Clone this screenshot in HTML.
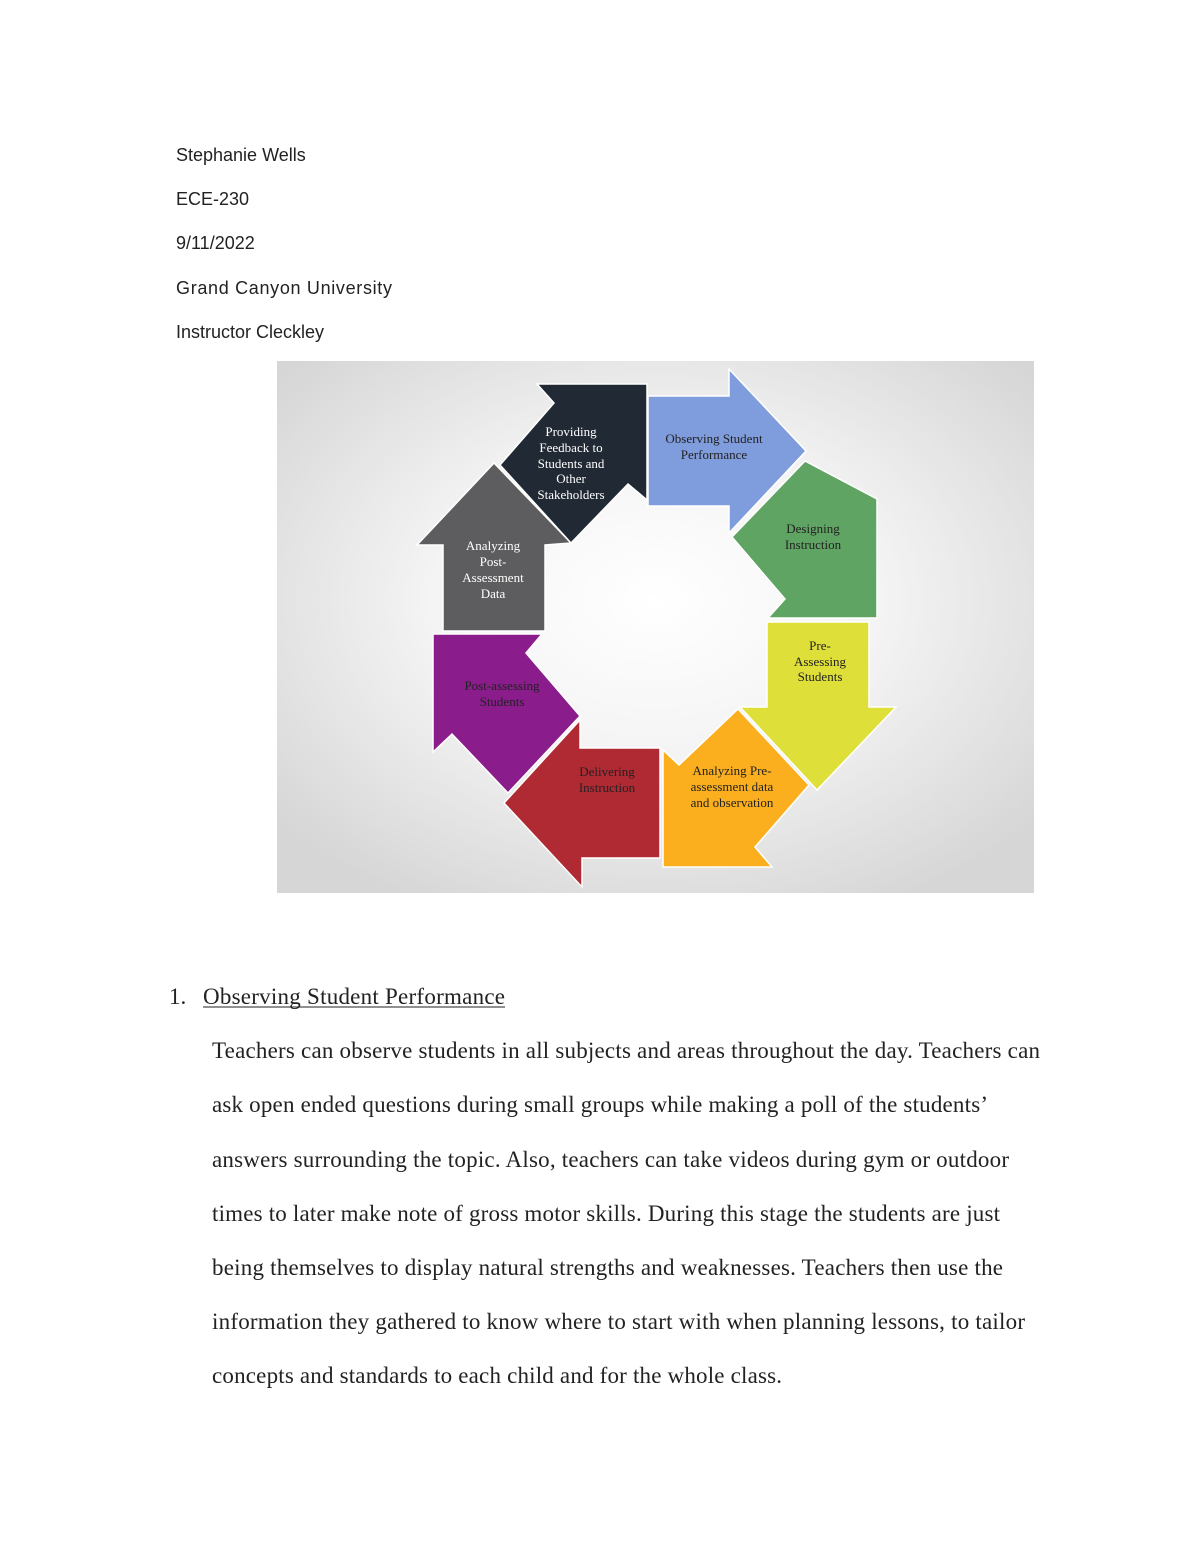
<!DOCTYPE html>
<html><head><meta charset="utf-8"><style>
html,body{margin:0;padding:0;background:#fff;width:1200px;height:1553px;overflow:hidden}
svg{display:block}
.h{font-family:"Liberation Sans",sans-serif;font-size:18px;fill:#222}
.b{font-family:"Liberation Serif",serif;font-size:23px;fill:#222}
.l{font-family:"Liberation Serif",serif;font-size:13px;text-anchor:middle}
</style></head><body>
<svg width="1200" height="1553" viewBox="0 0 1200 1553" xmlns="http://www.w3.org/2000/svg">
<defs>
<radialGradient id="g" cx="50%" cy="45%" r="65%">
<stop offset="0" stop-color="#ffffff"/><stop offset="0.45" stop-color="#f4f4f4"/><stop offset="1" stop-color="#d6d6d6"/>
</radialGradient>
</defs>
<text class="h" x="176" y="161">Stephanie Wells</text>
<text class="h" x="176" y="205">ECE-230</text>
<text class="h" x="176" y="249">9/11/2022</text>
<text class="h" x="176" y="294" textLength="216">Grand Canyon University</text>
<text class="h" x="176" y="338">Instructor Cleckley</text>

<rect x="277" y="361" width="757" height="532" fill="url(#g)"/>
<g stroke="#fff" stroke-width="1.5" stroke-linejoin="miter">
<polygon fill="#7f9cdc" points="648,396 729,396 729,369 806,451 729,533 729,506 648,506"/>
<polygon fill="#5fa463" points="732,537 805,461 877,499 877,618 768,618 785,599"/>
<polygon fill="#dfdf3a" points="767,622 869,622 869,707 896,707 817,790 740,707 767,707"/>
<polygon fill="#fbaf1e" points="738,709 809,785 755,847 772,867 663,867 663,750 679,765"/>
<polygon fill="#b02a33" points="580,720 580,748 660,748 660,858 582,858 582,887 504,803"/>
<polygon fill="#8b1c8c" points="433,634 542,634 526,653 580,716 508,793 452,734 433,752"/>
<polygon fill="#5d5d5f" points="443,631 443,545 417,545 494,463 571,543 545,545 545,631"/>
<polygon fill="#212a34" points="537,384 647,384 647,500 628,484 571,543 500,465 554,403"/>
</g>
<g class="l">
<text fill="#fff" x="571" y="436">Providing</text>
<text fill="#fff" x="571" y="452">Feedback to</text>
<text fill="#fff" x="571" y="468">Students and</text>
<text fill="#fff" x="571" y="483">Other</text>
<text fill="#fff" x="571" y="499">Stakeholders</text>
<text fill="#222" x="714" y="443">Observing Student</text>
<text fill="#222" x="714" y="459">Performance</text>
<text fill="#222" x="813" y="533">Designing</text>
<text fill="#222" x="813" y="549">Instruction</text>
<text fill="#222" x="820" y="650">Pre-</text>
<text fill="#222" x="820" y="666">Assessing</text>
<text fill="#222" x="820" y="681">Students</text>
<text fill="#222" x="732" y="775">Analyzing Pre-</text>
<text fill="#222" x="732" y="791">assessment data</text>
<text fill="#222" x="732" y="807">and observation</text>
<text fill="#222" x="607" y="776">Delivering</text>
<text fill="#222" x="607" y="792">Instruction</text>
<text fill="#222" x="502" y="690">Post-assessing</text>
<text fill="#222" x="502" y="706">Students</text>
<text fill="#fff" x="493" y="550">Analyzing</text>
<text fill="#fff" x="493" y="566">Post-</text>
<text fill="#fff" x="493" y="582">Assessment</text>
<text fill="#fff" x="493" y="598">Data</text>
</g>

<text class="b" x="169" y="1004">1.</text>
<text class="b" x="203" y="1004" textLength="302">Observing Student Performance</text>
<line x1="203" y1="1007" x2="505" y2="1007" stroke="#222" stroke-width="1"/>
<text class="b" x="212" y="1058" textLength="828">Teachers can observe students in all subjects and areas throughout the day. Teachers can</text>
<text class="b" x="212" y="1112" textLength="776">ask open ended questions during small groups while making a poll of the students’</text>
<text class="b" x="212" y="1167" textLength="797">answers surrounding the topic. Also, teachers can take videos during gym or outdoor</text>
<text class="b" x="212" y="1221" textLength="788">times to later make note of gross motor skills. During this stage the students are just</text>
<text class="b" x="212" y="1275" textLength="791">being themselves to display natural strengths and weaknesses. Teachers then use the</text>
<text class="b" x="212" y="1329" textLength="813">information they gathered to know where to start with when planning lessons, to tailor</text>
<text class="b" x="212" y="1383" textLength="570">concepts and standards to each child and for the whole class.</text>
</svg>
</body></html>
